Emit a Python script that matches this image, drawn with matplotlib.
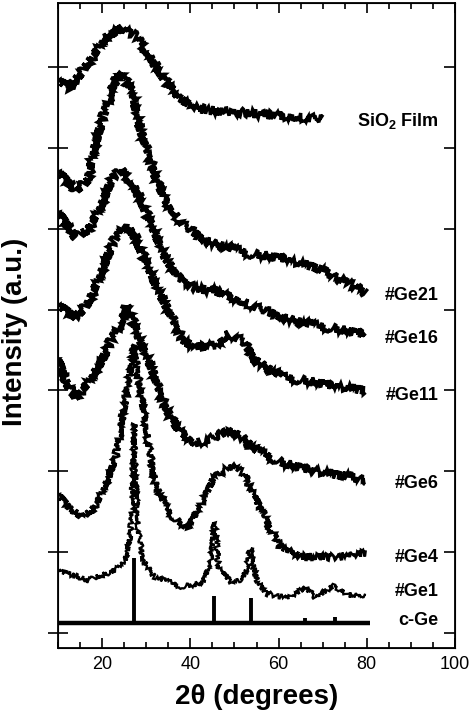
"""XRD patterns of Ge-doped SiO2 films, offset stack (re-drawn from figure)."""
import matplotlib
matplotlib.use("Agg")
import matplotlib.pyplot as plt
from matplotlib.ticker import MultipleLocator

plt.rcParams["font.family"] = ["Liberation Sans", "DejaVu Sans"]
plt.rcParams["mathtext.fontset"] = "custom"
plt.rcParams["mathtext.rm"] = "Liberation Sans"
plt.rcParams["mathtext.bf"] = "Liberation Sans:bold"

# --- data: 2theta (deg) and offset intensity (a.u.) ---
sio2_x = [10, 12.7, 16.8, 20.7, 24.5, 28.2, 31.4, 34.3, 37.3, 41.1, 45, 55, 62, 70]
sio2_y = [6.85, 6.74, 7.04, 7.36, 7.48, 7.36, 7.07, 6.83, 6.62, 6.49, 6.46, 6.42, 6.39, 6.36]

ge21_x = [10, 13.9, 16.8, 17.7, 19.1, 20.7, 22.3, 24.1, 26.8, 28.2, 30.5, 32.0, 34.3, 38.2,
          43.4, 53.2, 60.9, 68.4, 75.9, 79.8]
ge21_y = [5.72, 5.47, 5.59, 5.88, 6.17, 6.46, 6.74, 6.93, 6.70, 6.30, 5.93, 5.65, 5.35, 5.06,
          4.85, 4.69, 4.64, 4.52, 4.32, 4.21]

ge16_x = [10, 13.9, 16.8, 20.0, 22.3, 24.5, 26.8, 29.1, 31.4, 34.3, 37.3, 41.1, 45.7, 53.2,
          60.9, 68.4, 79.8]
ge16_y = [5.22, 4.89, 4.98, 5.31, 5.63, 5.72, 5.56, 5.31, 5.01, 4.64, 4.40, 4.26, 4.23, 4.07,
          3.90, 3.80, 3.70]

ge11_x = [10, 13.9, 16.8, 20.0, 22.3, 25.2, 27.5, 29.8, 32.7, 35.9, 38.2, 41.1, 45.7, 48.6,
          51.8, 54.8, 60.9, 68.4, 79.8]
ge11_y = [4.07, 3.90, 4.07, 4.48, 4.81, 5.06, 4.89, 4.60, 4.23, 3.90, 3.62, 3.53, 3.56, 3.70,
          3.62, 3.37, 3.16, 3.10, 3.00]

ge6_x = [10, 11.6, 13.9, 16.8, 20.0, 22.3, 24.5, 25.7, 28.2, 31.4, 34.3, 37.3, 41.1, 45.7,
         48.6, 51.8, 54.8, 60.9, 68.4, 79.8]
ge6_y = [3.41, 3.12, 2.91, 3.09, 3.37, 3.65, 3.86, 4.05, 3.65, 3.25, 2.79, 2.51, 2.35, 2.42,
         2.51, 2.42, 2.26, 2.10, 2.01, 1.89]

ge4_x = [10, 12.7, 15.5, 17.7, 19.1, 21.4, 23.2, 24.5, 25.9, 26.8, 27.3, 27.7, 28.6, 29.8,
         30.9, 32.0, 34.3, 36.6, 39.3, 42.3, 45.2, 49.1, 52.0, 54.3, 57.5, 60.5, 65.0, 71.8, 79.8]
ge4_y = [1.73, 1.54, 1.43, 1.52, 1.64, 1.91, 2.20, 2.63, 3.06, 3.37, 3.56, 3.37, 3.00, 2.63,
         2.20, 1.86, 1.56, 1.40, 1.30, 1.58, 1.91, 2.07, 1.98, 1.73, 1.36, 1.06, 0.95, 0.94, 0.99]

ge1_x = [10, 16.8, 23.0, 25.2, 26.4, 26.8, 27.0, 27.3, 27.5, 28.0, 28.2, 29.3, 32.0, 38.2,
         42.7, 44.5, 45.0, 45.5, 46.4, 49.5, 51.8, 52.9, 53.6, 54.3, 55.2, 57.0, 62.3, 66.1,
         68.4, 72.5, 75.9, 79.8]
ge1_y = [0.78, 0.65, 0.78, 0.90, 1.19, 1.56, 2.01, 2.59, 2.01, 1.56, 1.27, 0.90, 0.69, 0.57,
         0.62, 0.86, 1.15, 1.37, 0.81, 0.62, 0.65, 0.84, 1.05, 0.84, 0.65, 0.49, 0.44, 0.56,
         0.44, 0.59, 0.47, 0.47]

# c-Ge reference lines
cge_pos = [27.3, 45.3, 53.7, 66.0, 72.8]
cge_top = [0.93, 0.46, 0.43, 0.18, 0.20]
cge_base = 0.12
cge_range = [10, 80.7]

labels = ["SiO$_\\mathbf{2}$ Film", "#Ge21", "#Ge16", "#Ge11", "#Ge6", "#Ge4", "#Ge1", "c-Ge"]
label_y = [6.33, 4.17, 3.64, 2.94, 1.85, 0.94, 0.51, 0.15]

fig = plt.figure(figsize=(4.74, 7.15), dpi=100)
ax = fig.add_axes([58 / 474, 1 - 648 / 715, 397 / 474, 645 / 715])

curves = [(sio2_x, sio2_y), (ge21_x, ge21_y), (ge16_x, ge16_y), (ge11_x, ge11_y),
          (ge6_x, ge6_y), (ge4_x, ge4_y), (ge1_x, ge1_y)]
# stroke width / jitter per curve: the sharp Ge4, Ge1 scans are less noisy
widths = [2.4, 2.4, 2.4, 2.4, 2.4, 2.0, 1.6]
jitter = [4.5, 4.5, 4.5, 4.5, 4.5, 3.5, 2.6]
for (x, y), lw, sc in zip(curves, widths, jitter):
    ln, = ax.plot(x, y, color="black", lw=lw, solid_joinstyle="miter", solid_capstyle="butt")
    # jittered stroke to mimic the counting noise of the scans
    ln.set_sketch_params(scale=sc, length=0.8, randomness=3)

ax.hlines(cge_base, *cge_range, color="black", lw=3.2)
ax.vlines(cge_pos, cge_base, cge_top, color="black", lw=2.8)

for txt, yy in zip(labels, label_y):
    ax.text(96.2, yy, txt, ha="right", va="center", fontsize=13, fontweight="bold")

ax.set_xlim(10, 100)
ax.set_ylim(-0.185, 7.79)
ax.xaxis.set_major_locator(MultipleLocator(20))
ax.xaxis.set_minor_locator(MultipleLocator(5))
ax.set_yticks(range(8))
ax.set_yticklabels([])
ax.tick_params(axis="x", which="both", direction="in", top=True, labelsize=13, pad=6, width=1.2)
ax.tick_params(axis="x", which="major", length=7)
ax.tick_params(axis="x", which="minor", length=4)
ax.tick_params(axis="y", direction="inout", length=14, width=1.2)
for s in ax.spines.values():
    s.set_linewidth(1.3)

rax = ax.twinx()
rax.set_ylim(ax.get_ylim())
rax.set_yticks(range(8))
rax.set_yticklabels([])
rax.tick_params(axis="y", direction="in", length=8, width=1.2)

fig.text(15 / 474, 1 - 332 / 715, "Intensity (a.u.)", rotation=90, ha="center", va="center",
         fontsize=20, fontweight="bold")
fig.text(257 / 474, 1 - 697 / 715, "2θ (degrees)", ha="center", va="center",
         fontsize=20, fontweight="bold")

fig.savefig("out.png", dpi=100)
